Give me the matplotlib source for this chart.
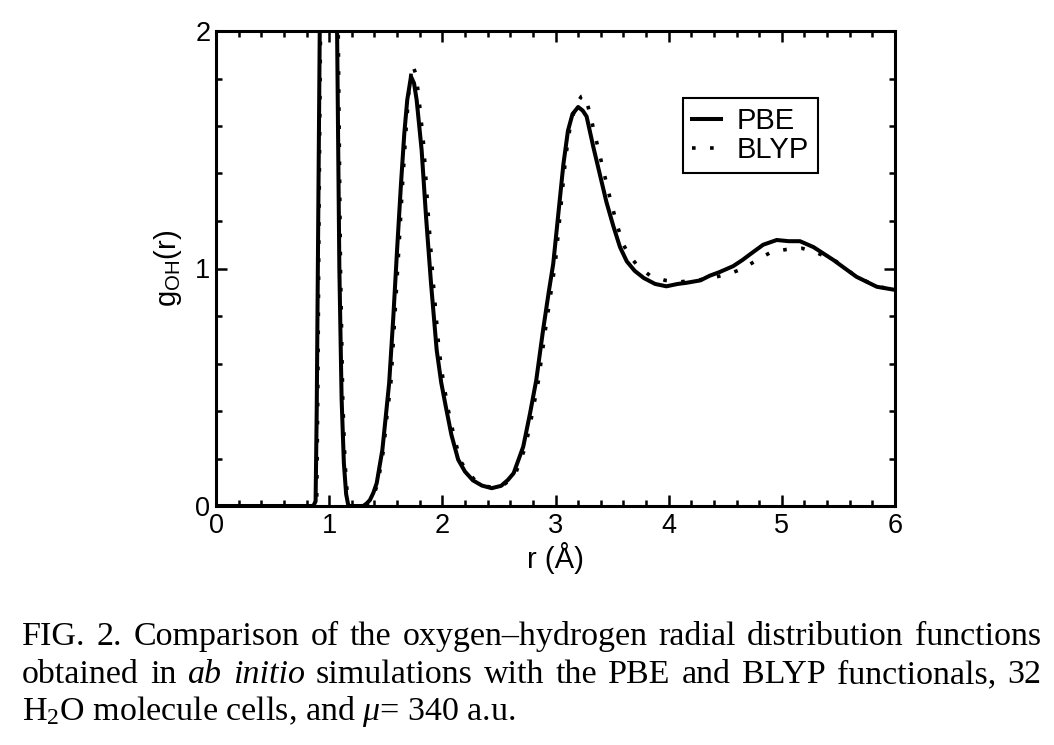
import matplotlib.pyplot as plt
from matplotlib.ticker import MultipleLocator

plt.rcParams["font.family"] = "Liberation Sans"
plt.rcParams["mathtext.fontset"] = "custom"
plt.rcParams["mathtext.rm"] = "Liberation Serif"
plt.rcParams["mathtext.it"] = "Liberation Serif:italic"
plt.rcParams["mathtext.sf"] = "Liberation Sans"

# PBE g_OH(r)
r_pbe = [0.0, 0.5, 0.86, 0.88, 0.89, 0.90, 0.91, 0.92, 0.95, 0.98,
         1.01, 1.04, 1.07, 1.09, 1.11, 1.13, 1.15, 1.17, 1.20, 1.30,
         1.33, 1.36, 1.39, 1.42, 1.45, 1.47, 1.50, 1.53, 1.567, 1.60,
         1.635, 1.664, 1.69, 1.723, 1.75, 1.773, 1.817, 1.856, 1.90, 1.95,
         1.99, 2.03, 2.08, 2.14, 2.20, 2.27, 2.35, 2.436, 2.52, 2.58, 2.63,
         2.715, 2.775, 2.83, 2.89, 2.94, 2.98, 3.025, 3.07, 3.11, 3.15,
         3.20, 3.24, 3.275, 3.335, 3.39, 3.45, 3.51, 3.57, 3.63, 3.70,
         3.78, 3.88, 3.98, 4.08, 4.16, 4.28, 4.365, 4.45, 4.57, 4.65,
         4.72, 4.835, 4.955, 5.06, 5.16, 5.28, 5.455, 5.66, 5.84, 6.0]
g_pbe = [0.0, 0.0, 0.0, 0.02, 0.4, 1.0, 1.6, 2.2, 5.5, 9.0,
         10.0, 6.0, 2.0, 1.0, 0.45, 0.18, 0.05, 0.0, 0.0, 0.0,
         0.01, 0.025, 0.055, 0.096, 0.18, 0.236, 0.376, 0.517, 0.797, 1.078,
         1.359, 1.569, 1.71, 1.808, 1.78, 1.71, 1.499, 1.218, 0.938, 0.657,
         0.52, 0.42, 0.30, 0.195, 0.145, 0.108, 0.086, 0.075, 0.085, 0.11, 0.138,
         0.25, 0.39, 0.53, 0.74, 0.90, 1.02, 1.23, 1.44, 1.58, 1.65,
         1.68, 1.665, 1.64, 1.51, 1.40, 1.28, 1.18, 1.09, 1.03, 0.99,
         0.96, 0.935, 0.925, 0.935, 0.94, 0.95, 0.97, 0.985, 1.01, 1.035,
         1.06, 1.10, 1.12, 1.115, 1.115, 1.09, 1.036, 0.965, 0.923, 0.91]

# BLYP g_OH(r)
r_blyp = [0.0, 0.5, 0.87, 0.89, 0.90, 0.91, 0.92, 0.93, 0.96, 0.99,
          1.02, 1.05, 1.08, 1.10, 1.12, 1.14, 1.16, 1.18, 1.21, 1.31,
          1.34, 1.37, 1.40, 1.43, 1.46, 1.48, 1.51, 1.545, 1.58, 1.615,
          1.65, 1.68, 1.705, 1.735, 1.765, 1.79, 1.835, 1.875, 1.92, 1.97,
          2.01, 2.05, 2.10, 2.16, 2.22, 2.29, 2.37, 2.45, 2.53, 2.60, 2.65,
          2.735, 2.795, 2.85, 2.91, 2.96, 3.00, 3.045, 3.09, 3.13, 3.18,
          3.23, 3.26, 3.30, 3.36, 3.42, 3.48, 3.54, 3.60, 3.66, 3.72,
          3.835, 3.97, 4.10, 4.24, 4.38, 4.53, 4.66, 4.78, 4.91, 5.04,
          5.18, 5.32, 5.48, 5.66, 5.84, 6.0]
g_blyp = [0.0, 0.0, 0.0, 0.02, 0.5, 1.2, 1.8, 2.4, 6.0, 9.5,
          10.0, 5.5, 2.0, 1.0, 0.45, 0.18, 0.05, 0.0, 0.0, 0.0,
          0.01, 0.025, 0.055, 0.096, 0.18, 0.236, 0.376, 0.517, 0.797, 1.078,
          1.37, 1.59, 1.75, 1.86, 1.82, 1.73, 1.52, 1.23, 0.94, 0.66,
          0.52, 0.41, 0.30, 0.19, 0.145, 0.108, 0.086, 0.076, 0.085, 0.11, 0.14,
          0.25, 0.39, 0.53, 0.74, 0.90, 1.03, 1.25, 1.47, 1.60, 1.69,
          1.725, 1.73, 1.66, 1.54, 1.42, 1.30, 1.19, 1.10, 1.05, 1.015,
          0.97, 0.95, 0.944, 0.95, 0.96, 0.977, 1.0, 1.036, 1.07, 1.08,
          1.085, 1.064, 1.03, 0.965, 0.925, 0.91]

caption = [
    "FIG. 2. Comparison of the oxygen\u2013hydrogen radial distribution functions",
    "obtained in *ab *initio simulations with the PBE and BLYP functionals, 32",
    "H$_\\mathrm{2}$O molecule cells, and $\\mu$= 340 a.u.",
]

W, H = 1054, 745
fig = plt.figure(figsize=(W / 100, H / 100), dpi=100)
ax = fig.add_axes([216 / W, 1 - 506 / H, (895 - 216) / W, (506 - 31) / H])

blyp, = ax.plot(r_blyp, g_blyp, color="black", lw=2.6,
                linestyle=(0, (1, 4)), dash_capstyle="butt", zorder=2)
pbe, = ax.plot(r_pbe, g_pbe, color="black", lw=2.9, zorder=3)

ax.set_xlim(0, 6)
ax.set_ylim(0, 2)
ax.xaxis.set_major_locator(MultipleLocator(1))
ax.xaxis.set_minor_locator(MultipleLocator(0.2))
ax.yaxis.set_major_locator(MultipleLocator(1))
ax.yaxis.set_minor_locator(MultipleLocator(0.2))
ax.tick_params(which="both", direction="in", top=True, right=True,
               width=1.8, labelsize=19.5, color="black")
ax.tick_params(which="major", length=8)
ax.tick_params(which="minor", length=4.5)
ax.tick_params(axis="x", which="major", pad=5)
ax.tick_params(axis="y", which="major", pad=4)
for s in ax.spines.values():
    s.set_linewidth(2.2)

ax.set_xlabel("r (\u00c5)", fontsize=21, labelpad=2)
ax.set_ylabel("g$_\\mathsf{OH}$(r)", fontsize=21, labelpad=8)

leg = ax.legend([pbe, blyp], ["PBE", "BLYP"], loc="upper left",
                bbox_to_anchor=(683 / W, 1 - 98 / H), bbox_transform=fig.transFigure,
                fontsize=21, frameon=True, fancybox=False, framealpha=1,
                edgecolor="black", handlelength=1.0, handletextpad=0.55,
                borderpad=0.3, labelspacing=0.05, borderaxespad=0)
leg.get_frame().set_linewidth(1.5)

# caption, lines 1 and 2 justified between x0 and x1
x0, x1 = 22, 1041
baselines = [645, 683, 720]
fig.canvas.draw()
renderer = fig.canvas.get_renderer()
cap_kw = dict(family="Liberation Serif", fontsize=24.5, va="baseline", ha="left")
for i, line in enumerate(caption):
    y = 1 - baselines[i] / H
    if i == len(caption) - 1:
        fig.text(x0 / W, y, line, **cap_kw)
        continue
    words = line.split(" ")
    texts = []
    for w in words:
        style = "italic" if w.startswith("*") else "normal"
        texts.append(fig.text(0, y, w.lstrip("*"), style=style, **cap_kw))
    widths = [t.get_window_extent(renderer).width for t in texts]
    gap = (x1 - x0 - sum(widths)) / (len(words) - 1)
    x = x0
    for t, w in zip(texts, widths):
        t.set_x(x / W)
        x += w + gap

fig.savefig("out.png", dpi=100)
